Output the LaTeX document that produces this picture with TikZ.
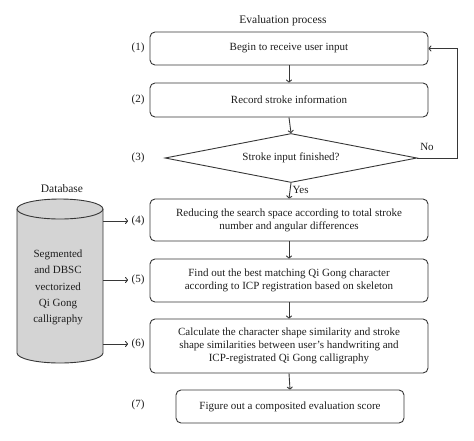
\documentclass[tikz,border=0pt]{standalone}
\usepackage{fontspec}
\setmainfont{Liberation Serif}
\usetikzlibrary{shapes.geometric,arrows.meta}
\definecolor{linec}{RGB}{55,55,55}
\definecolor{textc}{RGB}{30,30,30}
\definecolor{dbfill}{RGB}{212,212,212}
\begin{document}
\begin{tikzpicture}[x=1pt,y=-1pt,
  txt/.style={font=\fontsize{11}{13}\selectfont, text=textc},
  box/.style={txt, draw=linec, line width=0.9pt, rounded corners=5pt, align=center, inner sep=0pt, minimum width=278},
  lab/.style={txt},
  arr/.style={draw=linec, line width=0.9pt, -{To[length=3pt,width=6pt]}}]
\useasboundingbox (0,0) rectangle (474,440);
% titles
\node[lab, font=\fontsize{11.5}{13}\selectfont] (evt) at (283,21) {Evaluation process};
\node[lab, font=\fontsize{11.5}{13}\selectfont] (dbt) at (62,189) {Database};
% boxes
\node[box, minimum height=33] (b1) at (289,48.5) {Begin to receive user input};
\node[box, minimum height=34] (b2) at (289,100) {Record stroke information};
\node[txt, draw=linec, line width=0.9pt, shape=diamond, aspect=5.1, inner sep=0pt, minimum width=252, minimum height=49] (d3) at (291,158) {Stroke input finished?};
\node[box, minimum height=42] (b4) at (289,220) {Reducing the search space according to total stroke\\number and angular differences};
\node[box, minimum height=43] (b5) at (289,280.5) {Find out the best matching Qi Gong character\\according to ICP registration based on skeleton};
\node[box, minimum height=54] (b6) at (289,346) {Calculate the character shape similarity and stroke\\shape similarities between user's handwriting and\\ICP-registrated Qi Gong calligraphy};
\node[box, minimum width=228, minimum height=33] (b7) at (290,406.5) {Figure out a composited evaluation score};
% step labels
\node[lab] (l1) at (138,48) {(1)};
\node[lab] (l2) at (138,100) {(2)};
\node[lab] (l3) at (138,158) {(3)};
\node[lab] (l4) at (138,221) {(4)};
\node[lab] (l5) at (138,280) {(5)};
\node[lab] (l6) at (138,344) {(6)};
\node[lab] (l7) at (138,405) {(7)};
% arrows
\draw[arr] (b1.south) -- (b2.north);
\draw[arr] (b2.south) -- (d3.north);
\draw[arr] (d3.south) -- node[lab, right, pos=0.45, inner sep=2pt] (yes) {Yes} (b4.north);
\draw[arr] (b4.south) -- (b5.north);
\draw[arr] (b5.south) -- (b6.north);
\draw[arr] (b6.south) -- (b7.north);
\coordinate (fb) at (457,158);
\draw[arr] (d3.east) -- (fb) |- (b1.east);
\node[lab] (no) at (427,147) {No};
% database cylinder
\filldraw[fill=dbfill, draw=linec, line width=0.9pt]
  (17,209) -- (17,353) arc[start angle=180, end angle=360, x radius=43, y radius=-10] -- (103,209)
  arc[start angle=0, end angle=180, x radius=43, y radius=-10] -- cycle;
\draw[linec, line width=0.9pt] (17,209) arc[start angle=180, end angle=360, x radius=43, y radius=-10];
\node[txt, align=center, font=\fontsize{11}{16.3}\selectfont] (db) at (58,287.5) {Segmented\\and DBSC\\vectorized\\Qi Gong\\calligraphy};
\coordinate (c4) at (103,221);
\coordinate (c5) at (103,280);
\coordinate (c6) at (103,344);
\draw[arr] (c4) -- (l4.west);
\draw[arr] (c5) -- (l5.west);
\draw[arr] (c6) -- (l6.west);
\end{tikzpicture}
\end{document}
